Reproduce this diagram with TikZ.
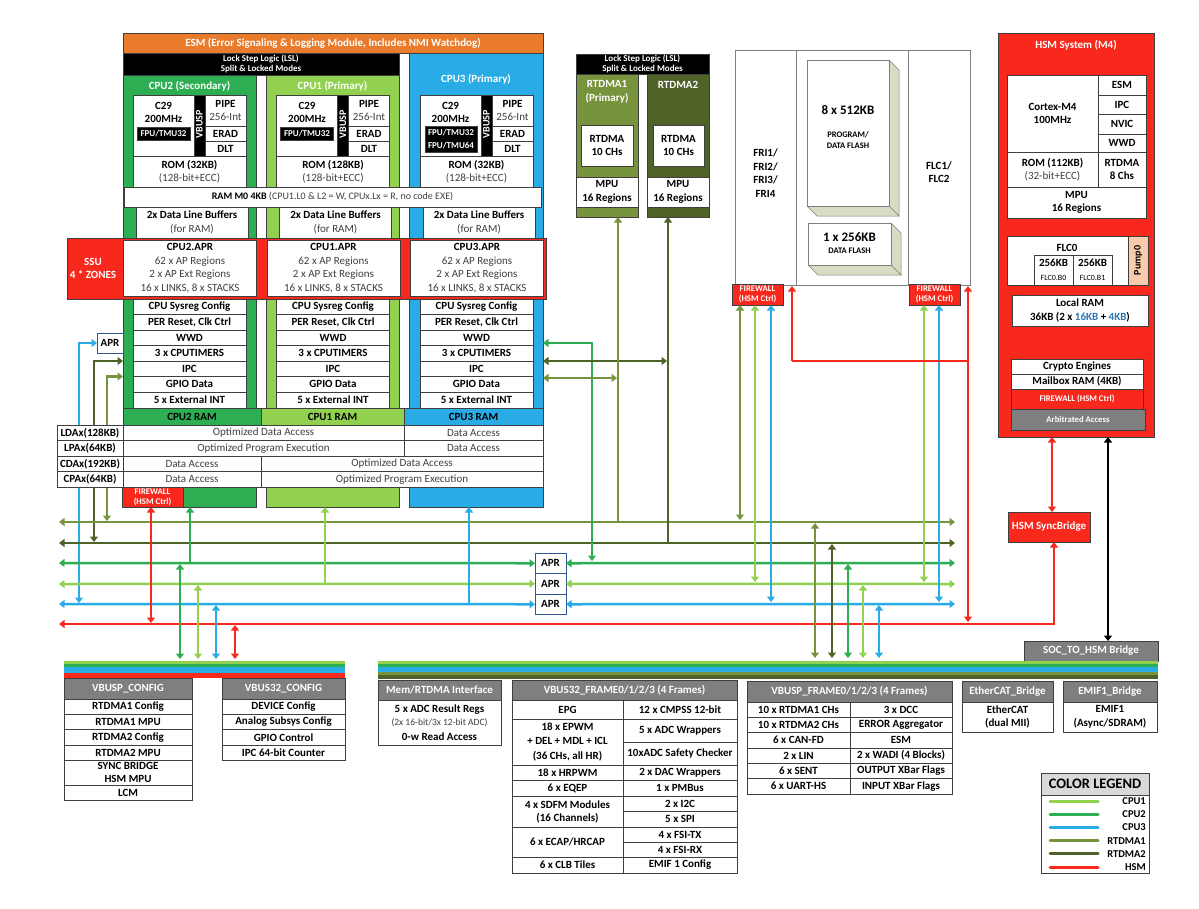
\documentclass[tikz,border=0pt]{standalone}
\usepackage{fontspec}
\setmainfont{Carlito}
\usetikzlibrary{arrows.meta}
\definecolor{cA}{HTML}{92D050}
\definecolor{cB}{HTML}{2EAE52}
\definecolor{cC}{HTML}{29ACE6}
\definecolor{rA}{HTML}{77933C}
\definecolor{rB}{HTML}{4F6228}
\definecolor{hsm}{HTML}{F8281C}
\definecolor{esmc}{HTML}{E97B2B}
\definecolor{hdr}{HTML}{7F7F7F}
\definecolor{bd}{HTML}{3F3F3F}
\definecolor{flsh}{HTML}{DADBC4}
\definecolor{pumpc}{HTML}{F8CBAD}
\definecolor{lgd}{HTML}{D9D9D9}
\definecolor{blu}{HTML}{2E75B6}
\definecolor{txg}{HTML}{404040}
\definecolor{aprb}{HTML}{2F5597}
\newcommand{\fntB}{\bfseries\fontsize{11}{13.5}\selectfont}
\newcommand{\fntS}{\bfseries\fontsize{8.7}{10}\selectfont}
\newcommand{\rgl}{\mdseries\color{txg}}
\newcommand{\bxx}[7][]{\node[bx,minimum width={(#5)-(#3)},minimum height={(#6)-(#4)},#1] (#2) at ({((#3)+(#5))/2},{((#4)+(#6))/2}) {#7};}
\tikzset{
 bx/.style={draw=bd,fill=white,line width=0.6pt,inner sep=0pt,outer sep=0pt,align=center,font=\fntB,text=black},
 lbl/.style={inner sep=0pt,align=center,font=\fntB},
 wl/.style={lbl,text=white},
 hd/.style={fill=hdr,text=white},
 fw/.style={fill=hsm,text=white,font=\fntS},
 mt/.style={font=\mdseries\fontsize{11}{13}\selectfont,text=txg},
 cn/.style={line width=2.5pt},
}
\begin{document}
\begin{tikzpicture}[x=1pt,y=-1pt,>={Triangle[width=8pt,length=5.5pt]}]
\fill[white] (0,0) rectangle (1199,908);
\useasboundingbox (0,0) rectangle (1199,908);

% ===== CPU cluster =====
\bxx[fill=esmc,text=white]{esm}{123}{33}{543}{53}{ESM (Error Signaling \& Logging Module, Includes NMI Watchdog)}
\bxx[fill=cB]{cpu2}{123}{75}{256}{507}{}
\bxx[fill=cA]{cpu1}{266}{75}{399}{507}{}
\bxx[fill=cC]{cpu3}{409}{53}{543}{507}{}
\bxx[fill=black,text=white,font=\bfseries\fontsize{9}{10.5}\selectfont]{lsl}{123}{53}{399}{75}{Lock Step Logic (LSL)\\Split \& Locked Modes}
\node[wl] (t2) at (189.5,86) {CPU2 (Secondary)};
\node[wl] (t1) at (332.5,86) {CPU1 (Primary)};
\node[wl] (t3) at (476,79) {CPU3 (Primary)};

\bxx[fill=hsm]{ssu}{67}{238}{546}{299}{}
\node[wl] (ssut) at (93,268.5) {SSU\\4 * ZONES};

\foreach \i/\dx/\romsz in {2/0/32KB,1/143.5/128KB,3/287/32KB}{
  \bxx{cz\i}{133+\dx}{95}{194+\dx}{156}{}
  \bxx[fill=black]{vb\i}{194+\dx}{95}{205+\dx}{156}{}
  \node[wl,rotate=90,font=\bfseries\fontsize{10}{11}\selectfont] (vbt\i) at (199.5+\dx,124) {VBUSP};
  \node[lbl] (czt\i) at (163.5+\dx,106) {C29};
  \node[lbl] (czm\i) at (163.5+\dx,119) {200MHz};
  \bxx{pp\i}{205+\dx}{95}{246+\dx}{126}{PIPE\\\rgl 256-Int}
  \bxx{er\i}{205+\dx}{126}{246+\dx}{141}{ERAD}
  \bxx{dl\i}{205+\dx}{141}{246+\dx}{156}{DLT}
  \bxx{rm\i}{133+\dx}{156}{246+\dx}{187}{ROM (\romsz)\\\rgl (128-bit+ECC)}
  \bxx{db\i}{136+\dx}{207}{248+\dx}{238}{2x Data Line Buffers\\\rgl (for RAM)}
  \bxx[font=\mdseries\fontsize{11}{13.7}\selectfont,text=txg]{ap\i}{123.5+\dx}{240}{256.5+\dx}{296}{\textbf{\color{black}CPU\i.APR}\\62 x AP Regions\\2 x AP Ext Regions\\16 x LINKS, 8 x STACKS}
  \bxx{pa\i}{133+\dx}{299}{246+\dx}{314.5}{CPU Sysreg Config}
  \bxx{pb\i}{133+\dx}{314.5}{246+\dx}{330}{PER Reset, Clk Ctrl}
  \bxx{pc\i}{133+\dx}{330}{246+\dx}{345.5}{WWD}
  \bxx{pd\i}{133+\dx}{345.5}{246+\dx}{361}{3 x CPUTIMERS}
  \bxx{pe\i}{133+\dx}{361}{246+\dx}{376.5}{IPC}
  \bxx{pf\i}{133+\dx}{376.5}{246+\dx}{392}{GPIO Data}
  \bxx{pg\i}{133+\dx}{392}{246+\dx}{408}{5 x External INT}
}
\bxx[fill=black,text=white,font=\bfseries\fontsize{9}{13}\selectfont]{fpu2}{137}{127}{190}{140}{FPU/TMU32}
\bxx[fill=black,text=white,font=\bfseries\fontsize{9}{13}\selectfont]{fpu1}{280.5}{127}{333.5}{140}{FPU/TMU32}
\bxx[fill=black,text=white,font=\bfseries\fontsize{9}{13}\selectfont]{fpu3}{425}{126}{477}{152}{FPU/TMU32\\FPU/TMU64}

\bxx[font=\bfseries\fontsize{10}{12}\selectfont]{ramm0}{124}{187}{541}{207}{RAM M0 4KB {\rgl (CPU1.L0 \& L2 = W, CPUx.Lx = R, no code EXE)}}

% left-side connectors (behind the memory labels)
\bxx[draw=aprb]{aprL}{97}{333}{123}{353}{APR}
\draw[cn,cC,<->] (79,603) |- (aprL.west);
\draw[cn,rB,<->] (94,542) |- (pd2.south -| cpu2.west);
\draw[cn,rA,<->] (107,521) |- (pf2.north -| cpu2.west);

\bxx[fill=cB]{ram2}{123}{408}{261}{425}{CPU2 RAM}
\bxx[fill=cA]{ram1}{261}{408}{404}{425}{CPU1 RAM}
\bxx[fill=cC]{ram3}{404}{408}{543}{425}{CPU3 RAM}
\bxx{lda}{57}{425}{123}{440.5}{LDAx(128KB)}
\bxx{lpa}{57}{440.5}{123}{456}{LPAx(64KB)}
\bxx{cda}{57}{456}{123}{471.5}{CDAx(192KB)}
\bxx{cpa}{57}{471.5}{123}{487}{CPAx(64KB)}
\bxx[mt]{m11}{123}{425}{404}{440.5}{Optimized Data Access}
\bxx[mt]{m12}{404}{425}{543}{440.5}{Data Access}
\bxx[mt]{m21}{123}{440.5}{404}{456}{Optimized Program Execution}
\bxx[mt]{m22}{404}{440.5}{543}{456}{Data Access}
\bxx[mt]{m31}{123}{456}{261}{471.5}{Data Access}
\bxx[mt]{m32}{261}{456}{543}{471.5}{Optimized Data Access}
\bxx[mt]{m41}{123}{471.5}{261}{487}{Data Access}
\bxx[mt]{m42}{261}{471.5}{543}{487}{Optimized Program Execution}
\bxx[fw]{fwc}{122}{487}{183}{507}{FIREWALL\\(HSM Ctrl)}

% ===== RTDMA =====
\bxx[fill=black,text=white,font=\bfseries\fontsize{9}{10.5}\selectfont]{lsl2}{576}{54}{709}{74}{Lock Step Logic (LSL)\\Split \& Locked Modes}
\bxx[fill=rA]{rd1}{576}{74}{638}{217}{}
\bxx[fill=rB]{rd2}{647}{74}{709}{217}{}
\node[wl] (rd1t) at (607,92) {RTDMA1\\(Primary)};
\node[wl] (rd2t) at (678,85) {RTDMA2};
\bxx{rc1}{581}{125}{633}{166}{RTDMA\\10 CHs}
\bxx{rc2}{653}{125}{704}{166}{RTDMA\\10 CHs}
\bxx{mp1}{576}{177}{638}{207}{MPU\\16 Regions}
\bxx{mp2}{647}{177}{709}{207}{MPU\\16 Regions}

% ===== Flash =====
\bxx[draw=gray]{fri}{735}{50}{796}{285}{}
\bxx[draw=gray]{fmid}{796}{50}{908}{285}{}
\bxx[draw=gray]{flc}{908}{50}{970}{285}{}
\node[lbl] (frit) at (765.5,173) {FRI1/\\FRI2/\\FRI3/\\FRI4};
\node[lbl] (flct) at (939,172) {FLC1/\\FLC2};
\filldraw[fill=flsh,draw=gray,line width=0.5pt] (889,60) -- (899,70) -- (899,216) -- (889,206) -- cycle;
\filldraw[fill=flsh,draw=gray,line width=0.5pt] (807,206) -- (817,216) -- (899,216) -- (889,206) -- cycle;
\bxx[draw=gray]{f512}{807}{60}{889}{206}{}
\node[lbl,font=\bfseries\fontsize{13}{15}\selectfont] (f512t) at (848,110) {8 x 512KB};
\node[lbl,font=\bfseries\fontsize{8.5}{11}\selectfont] (f512s) at (848,140.5) {PROGRAM/\\DATA FLASH};
\filldraw[fill=flsh,draw=gray,line width=0.5pt] (891,223) -- (901,233) -- (901,275) -- (891,265) -- cycle;
\filldraw[fill=flsh,draw=gray,line width=0.5pt] (808,265) -- (818,275) -- (901,275) -- (891,265) -- cycle;
\bxx[draw=gray]{f256}{808}{223}{891}{265}{}
\node[lbl,font=\bfseries\fontsize{13}{15}\selectfont] (f256t) at (849.5,237) {1 x 256KB};
\node[lbl,font=\bfseries\fontsize{8.5}{10}\selectfont] (f256s) at (849.5,251) {DATA FLASH};
\bxx[fw]{fw1}{732}{284}{783}{305}{FIREWALL\\(HSM Ctrl)}
\bxx[fw]{fw2}{909}{284}{960}{305}{FIREWALL\\(HSM Ctrl)}

% ===== HSM =====
\bxx[fill=hsm]{hsmb}{998}{33}{1154}{437}{}
\node[wl] (hsmt) at (1076,45) {HSM System (M4)};
\bxx{cm4}{1007}{75}{1098}{152}{Cortex-M4\\100MHz}
\bxx{hesm}{1098}{75}{1146}{95}{ESM}
\bxx{hipc}{1098}{95}{1146}{114}{IPC}
\bxx{hnv}{1098}{114}{1146}{134}{NVIC}
\bxx{hww}{1098}{134}{1146}{152}{WWD}
\bxx{hrom}{1007}{152}{1098}{187}{ROM (112KB)\\\rgl (32-bit+ECC)}
\bxx{hrt}{1098}{152}{1146}{187}{RTDMA\\8 Chs}
\bxx{hmpu}{1007}{187}{1146}{218}{MPU\\16 Regions}
\bxx{flc0}{1007}{236}{1128}{285}{}
\node[lbl] (flc0t) at (1067,248) {FLC0};
\bxx{b0}{1034}{255}{1073}{285}{256KB\\{\mdseries\fontsize{8}{9}\selectfont FLC0.B0}}
\bxx{b1}{1073}{255}{1112}{285}{256KB\\{\mdseries\fontsize{8}{9}\selectfont FLC0.B1}}
\bxx[fill=pumpc]{pmp}{1128}{236}{1148}{285}{}
\node[lbl,rotate=90,font=\bfseries\fontsize{10}{11}\selectfont] (pmpt) at (1138,260.5) {Pump0};
\bxx{lram}{1012}{295}{1148}{326}{Local RAM\\36KB (2 x \textcolor{blu}{16KB} + \textcolor{blu}{4KB})}
\bxx{cry}{1011}{359}{1143}{374}{Crypto Engines}
\bxx{mbx}{1011}{374}{1143}{389}{Mailbox RAM (4KB)}
\bxx[fw]{hfw}{1011}{389}{1143}{409}{FIREWALL (HSM Ctrl)}
\bxx[hd,font=\fntS]{arb}{1011}{409}{1145}{430}{Arbitrated Access}
\bxx[fill=hsm,text=white]{sync}{1008}{512}{1090}{542}{HSM SyncBridge}
\bxx[hd]{soc}{1024}{641}{1158}{661}{SOC\_TO\_HSM Bridge}

% ===== middle APRs =====
\bxx[draw=aprb]{apr1}{535}{553}{566}{573.5}{APR}
\bxx[draw=aprb]{apr2}{535}{573.5}{566}{594}{APR}
\bxx[draw=aprb]{apr3}{535}{594}{566}{614.5}{APR}

% ===== bottom buses =====
\fill[cA] (64,660.5) rectangle (345,663.5);
\fill[cB] (64,663.5) rectangle (345,667);
\fill[cC] (64,667) rectangle (345,673);
\fill[hsm] (64,673) rectangle (345,677.5);
\fill[cA] (378,660.5) rectangle (1158,663.5);
\fill[cB] (378,663.5) rectangle (1158,666.5);
\fill[cC] (378,666.5) rectangle (1158,671.5);
\fill[rA] (378,671.5) rectangle (1158,675);
\fill[rB] (378,675) rectangle (1158,679);

% ===== bottom tables =====
\bxx[hd]{vph}{64}{678}{192}{699}{VBUSP\_CONFIG}
\bxx{vp1}{64}{699}{192}{714}{RTDMA1 Config}
\bxx{vp2}{64}{714}{192}{729.5}{RTDMA1 MPU}
\bxx{vp3}{64}{729.5}{192}{745}{RTDMA2 Config}
\bxx{vp4}{64}{745}{192}{760}{RTDMA2 MPU}
\bxx[font=\bfseries\fontsize{11}{13}\selectfont]{vp5}{64}{760}{192}{785}{SYNC BRIDGE\\HSM MPU}
\bxx{vp6}{64}{785}{192}{800.5}{LCM}
\bxx[hd]{v3h}{222}{678}{345}{699}{VBUS32\_CONFIG}
\bxx{v31}{222}{699}{345}{714}{DEVICE Config}
\bxx{v32}{222}{714}{345}{729.5}{Analog Subsys Config}
\bxx{v33}{222}{729.5}{345}{745}{GPIO Control}
\bxx{v34}{222}{745}{345}{760}{IPC 64-bit Counter}

\bxx[hd]{mrh}{378}{680}{501}{700}{Mem/RTDMA Interface}
\bxx{mrb}{378}{700}{501}{745}{}
\node[lbl] (mr1) at (439.5,710) {5 x ADC Result Regs};
\node[lbl,font=\mdseries\fontsize{9.5}{11}\selectfont,text=txg] (mr2) at (439.5,723) {(2x 16-bit/3x 12-bit ADC)};
\node[lbl] (mr3) at (439.5,737) {0-w Read Access};

\bxx[hd]{f3h}{512}{680}{737}{700}{VBUS32\_FRAME0/1/2/3 (4 Frames)}
\bxx{f3a}{512}{700}{623}{719}{EPG}
\bxx{f3b}{623}{700}{737}{719}{12 x CMPSS 12-bit}
\bxx[font=\bfseries\fontsize{11}{14.5}\selectfont]{f3c}{512}{719}{623}{765}{18 x EPWM\\+ DEL + MDL + ICL\\(36 CHs, all HR)}
\bxx{f3d}{623}{719}{737}{742}{5 x ADC Wrappers}
\bxx{f3e}{623}{742}{737}{765}{10xADC Safety Checker}
\bxx{f3f}{512}{765}{623}{780.5}{18 x HRPWM}
\bxx{f3g}{623}{765}{737}{780.5}{2 x DAC Wrappers}
\bxx{f3i}{512}{780.5}{623}{796}{6 x EQEP}
\bxx{f3j}{623}{780.5}{737}{796}{1 x PMBus}
\bxx[font=\bfseries\fontsize{11}{13}\selectfont]{f3k}{512}{796}{623}{827}{4 x SDFM Modules\\(16 Channels)}
\bxx{f3l}{623}{796}{737}{811.5}{2 x I2C}
\bxx{f3m}{623}{811.5}{737}{827}{5 x SPI}
\bxx{f3n}{512}{827}{623}{857}{6 x ECAP/HRCAP}
\bxx{f3o}{623}{827}{737}{842}{4 x FSI-TX}
\bxx{f3p}{623}{842}{737}{857}{4 x FSI-RX}
\bxx{f3q}{512}{857}{623}{873}{6 x CLB Tiles}
\bxx{f3r}{623}{857}{737}{873}{EMIF 1 Config}

\bxx[hd]{fph}{747}{681}{952}{702}{VBUSP\_FRAME0/1/2/3 (4 Frames)}
\bxx{fpa}{747}{702}{850}{717}{10 x RTDMA1 CHs}
\bxx{fpb}{850}{702}{952}{717}{3 x DCC}
\bxx{fpc}{747}{717}{850}{732.5}{10 x RTDMA2 CHs}
\bxx{fpd}{850}{717}{952}{732.5}{ERROR Aggregator}
\bxx{fpe}{747}{732.5}{850}{748}{6 x CAN-FD}
\bxx{fpf}{850}{732.5}{952}{748}{ESM}
\bxx{fpg}{747}{748}{850}{763}{2 x LIN}
\bxx{fph2}{850}{748}{952}{763}{2 x WADI (4 Blocks)}
\bxx{fpi}{747}{763}{850}{778.5}{6 x SENT}
\bxx{fpj}{850}{763}{952}{778.5}{OUTPUT XBar Flags}
\bxx{fpk}{747}{778.5}{850}{794}{6 x UART-HS}
\bxx{fpl}{850}{778.5}{952}{794}{INPUT XBar Flags}

\bxx[hd]{ech}{962}{681}{1053}{702}{EtherCAT\_Bridge}
\bxx{ecb}{962}{702}{1053}{732}{EtherCAT\\(dual MII)}
\bxx[hd]{emh}{1063}{681}{1157}{702}{EMIF1\_Bridge}
\bxx{emb}{1063}{702}{1157}{732}{EMIF1\\(Async/SDRAM)}

% ===== legend =====
\bxx{legb}{1041}{773}{1149}{873}{}
\bxx[fill=lgd,font=\bfseries\fontsize{14.5}{16}\selectfont]{legh}{1041}{773}{1149}{795}{COLOR LEGEND}
\foreach \c/\t/\y in {cA/CPU1/801,cB/CPU2/814.2,cC/CPU3/827.4,rA/RTDMA1/840.6,rB/RTDMA2/853.8,hsm/HSM/867}{
  \draw[\c,line width=3pt,line cap=round] (1050,\y) -- (1098,\y);
  \node[lbl,anchor=east,font=\bfseries\fontsize{10.5}{12}\selectfont] (lg\t) at (1146,\y) {\t};
}

% ===== connectors: coordinates =====
\coordinate (busAL) at (59,522);   \coordinate (busAR) at (955,522);
\coordinate (busBL) at (59,543);   \coordinate (busBR) at (955,543);
\coordinate (busGL) at (59,563);   \coordinate (busGR) at (955,563);
\coordinate (busLL) at (59,584);   \coordinate (busLR) at (955,584);
\coordinate (busCL) at (59,604);   \coordinate (busCR) at (955,604);
\coordinate (busHL) at (59,624);   \coordinate (busHR) at (1054,624);

% buses
\draw[cn,rA,<->] (busAL) -- (busAR);
\draw[cn,rB,<->] (busBL) -- (busBR);
\draw[cn,cB,<->] (busGL) -- (apr1.west);
\draw[cn,cB,<->] (apr1.east) -- (busGR);
\draw[cn,cA,<->] (busLL) -- (apr2.west);
\draw[cn,cA,<->] (apr2.east) -- (busLR);
\draw[cn,cC,<->] (busCL) -- (apr3.west);
\draw[cn,cC,<->] (apr3.east) -- (busCR);
\draw[cn,hsm,<->] (busHL) -- (busHR) -- (sync.south -| busHR);

% left side
\draw[cn,hsm,<->] (151,507) -- (151,623);
\draw[cn,cB,<-] (190,507) -- (190,563);
\draw[cn,cA,<-] (325,507) -- (325,584);
\draw[cn,cC,<-] (469,507) -- (469,604);
\draw[cn,cB,<->] (180,564) -- (180,659);
\draw[cn,cA,<->] (198,585) -- (198,659);
\draw[cn,cC,<->] (216,605) -- (216,659);
\draw[cn,hsm,<->] (235,625) -- (235,659);

% right of CPU3
\draw[cn,cB,<->] (543,343) -| (592,561);
\draw[cn,rB,<->] (543,361) -- (667,361);
\draw[cn,rA,<->] (543,378) -- (617,378);
\draw[cn,rA,<-] (618,217) -- (618,522);
\draw[cn,rB,<-] (668,217) -- (668,543);

% flash firewalls
\draw[cn,rA,<->] (740,305) -- (740,520);
\draw[cn,cA,<->] (755,305) -- (755,582);
\draw[cn,cC,<->] (771,305) -- (771,602);
\draw[cn,cA,<->] (924,305) -- (924,582);
\draw[cn,cC,<->] (939,305) -- (939,602);
\draw[cn,hsm,->] (792,361) -- (792,286);
\draw[cn,hsm] (792,361) -- (968,361);
\draw[cn,hsm,<->] (968,286) -- (968,622);

% to right bottom bus
\draw[cn,rA,<->] (815,523) -- (815,658);
\draw[cn,rB,<->] (832,544) -- (832,658);
\draw[cn,cB,<->] (848,564) -- (848,658);
\draw[cn,cA,<->] (863,585) -- (863,658);
\draw[cn,cC,<->] (879,605) -- (879,658);

% HSM
\draw[cn,hsm,<->] (1052,437) -- (1052,512);
\draw[cn,black,<->] (1108,437) -- (1108,641);
\end{tikzpicture}
\end{document}
